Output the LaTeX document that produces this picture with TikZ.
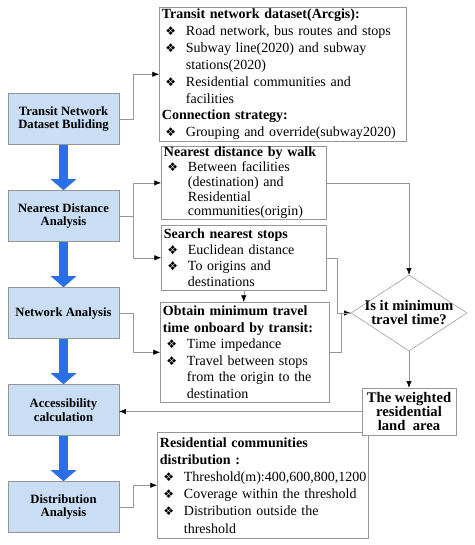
\documentclass[tikz,border=0pt]{standalone}
\usepackage{fontspec}
\setmainfont{Liberation Serif}
\newfontfamily\symfont{DejaVu Sans}
\usetikzlibrary{arrows.meta, positioning, shapes.geometric}
\definecolor{stageblue}{RGB}{201,222,244}
\definecolor{arrowblue}{RGB}{41,112,232}
\definecolor{linegray}{RGB}{150,150,150}
\newcommand{\bul}{\makebox[18pt][l]{\hspace*{2.5pt}{\symfont\fontsize{9}{9}\selectfont ❖}}}
\newcommand{\ind}{\hspace*{18pt}}

\begin{document}
\begin{tikzpicture}[x=0.75pt, y=-0.75pt, on grid, node distance=72.75pt,
    stage/.style={draw=linegray, fill=stageblue, minimum width=83.25pt, minimum height=38.25pt,
      align=center, font=\bfseries\fontsize{9.5}{10.3}\selectfont},
    infobox/.style={draw=linegray, fill=white, anchor=north west, align=left,
      inner xsep=2pt, inner ysep=0.5pt, font=\fontsize{10.5}{12.4}\selectfont},
    resultbox/.style={draw=linegray, fill=white, minimum width=70.5pt, minimum height=35.25pt,
      inner sep=1pt, align=center, font=\bfseries\fontsize{11}{10.7}\selectfont},
    flow/.style={draw=linegray, -{Latex[length=5pt,width=4pt,color=black]}},
    link/.style={draw=linegray},
    bigarrow/.style={arrowblue, line width=6.75pt, -{Triangle[length=8.25pt,width=18.75pt]}}]
  \useasboundingbox (0,0) rectangle (474,545);

  % stages on the left
  \node[stage]                    (build)    at (63.5,119) {Transit Network\\Dataset Buliding};
  \node[stage, below=of build]    (nearest)  {Nearest Distance\\Analysis};
  \node[stage, below=of nearest]  (network)  {Network Analysis};
  \node[stage, below=of network]  (access)   {Accessibility\\calculation};
  \node[stage, below=of access]   (distrib)  {Distribution\\Analysis};

  % detail boxes
  \node[infobox, text width=181.25pt, minimum height=100.5pt, font=\fontsize{10.5}{12.7}\selectfont] (dataset) at (159,7)
    {\textbf{Transit network dataset(Arcgis):}\\
     \bul Road network, bus routes and stops\\
     \bul Subway line(2020) and subway\\
     \ind stations(2020)\\
     \bul Residential communities and\\
     \ind facilities\\
     \textbf{Connection strategy:}\\
     \bul Grouping and override(subway2020)};
  \node[infobox, text width=119.75pt, minimum height=54.75pt, font=\fontsize{10.5}{11.1}\selectfont] (walk) at (161,146)
    {\textbf{Nearest distance by walk}\\
     \bul Between facilities\\
     \ind (destination) and\\
     \ind Residential\\
     \ind communities(origin)};
  \node[infobox, text width=119.75pt, minimum height=48.75pt, font=\fontsize{10.5}{12}\selectfont] (search) at (161,225)
    {\textbf{Search nearest stops}\\
     \bul Euclidean distance\\
     \bul To origins and\\
     \ind destinations};
  \node[infobox, text width=122.75pt, minimum height=75pt] (onboard) at (160,302)
    {\textbf{Obtain minimum travel}\\
     \textbf{time onboard by transit:}\\
     \bul Time impedance\\
     \bul Travel between stops\\
     \ind from the origin to the\\
     \ind destination};
  \node[infobox, text width=154.25pt, minimum height=79.5pt, font=\fontsize{10.5}{12.9}\selectfont] (threshold) at (157,432)
    {\textbf{Residential communities}\\
     \textbf{distribution :}\\
     \bul Threshold(m):400,600,800,1200\\
     \bul Coverage within the threshold\\
     \bul Distribution outside the\\
     \ind threshold};

  % decision and result
  \node[diamond, draw=linegray, minimum width=87pt, minimum height=57pt, inner sep=0pt] (check) at (409,313) {};
  \node[align=center, font=\bfseries\fontsize{11}{10.5}\selectfont] (checktext) at (check) {Is it minimum\\travel time?};
  \node[resultbox] (weighted) at (409,411.5) {The weighted\\residential\\land~~area};

  % connectors
  \foreach \a/\b in {build/nearest, nearest/network, network/access, access/distrib}
    \draw[bigarrow] (\a.south) -- (\b.north);
  \draw[flow] (build.east) -- ++(10.5pt,0) |- (dataset.west);
  \draw[flow] (nearest.east) -- ++(10.5pt,0) |- (walk.west);
  \draw[flow] (nearest.east) -- ++(10.5pt,0) |- (search.west);
  \draw[flow] (search.south) -- (search.south |- onboard.north);
  \draw[flow] (network.east) -- ++(10.5pt,0) |- (onboard.west);
  \draw[flow] (walk.east) -| (check.north);
  \draw[flow] (search.east) -- ++(8.25pt,0) |- (check.west);
  \draw[link] (onboard.east) -- ++(9pt,0) |- (check.west);
  \draw[flow] (check.south) -- (weighted.north);
  \draw[flow] (weighted.west) -- (weighted.west -| access.east);
  \draw[flow] (distrib.east) -- ++(10.5pt,0) |- (threshold.west);
\end{tikzpicture}
\end{document}
